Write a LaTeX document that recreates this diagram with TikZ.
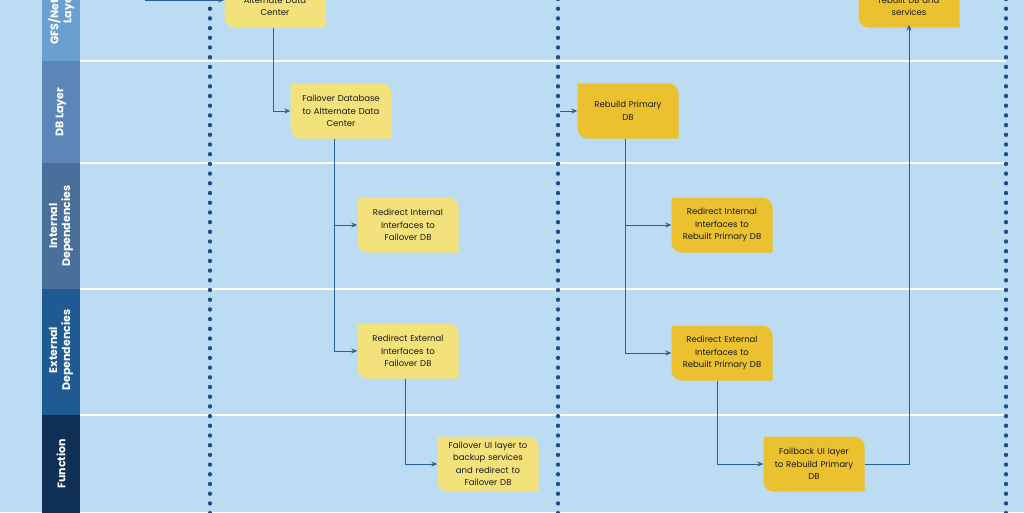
\documentclass[tikz,border=0pt]{standalone}
\usepackage{fontspec}
\setmainfont{Poppins}
\usetikzlibrary{arrows.meta}
\definecolor{bgblue}{HTML}{BCDCF3}
\definecolor{flow}{HTML}{2A5F9E}
\definecolor{dotblue}{HTML}{1E4E8C}
\definecolor{paleyel}{HTML}{F3E27C}
\definecolor{deepyel}{HTML}{EBC12F}
\tikzset{
  lanelabel/.style={rotate=90, text=white, font=\fontsize{11}{13}\selectfont\bfseries, align=center},
  stepbox/.style={minimum width=101pt, minimum height=55pt, inner sep=0pt,
    text width=98pt, align=center, font=\fontsize{8.5}{12.5}\selectfont, text=black!90,
    path picture={\fill[#1] (path picture bounding box.north west)
      -- ([xshift=-10pt]path picture bounding box.north east) arc(90:0:10pt)
      -- (path picture bounding box.south east)
      -- ([xshift=10pt]path picture bounding box.south west) arc(270:180:10pt) -- cycle;}},
  flowline/.style={flow, line width=0.9pt, -{Stealth[length=6pt,width=5pt]}},
  sepline/.style={dotblue, line width=4.4pt, dash pattern=on 0pt off 9.7pt, line cap=round}
}
\begin{document}
\begin{tikzpicture}[x=1pt, y=-1pt]
  \useasboundingbox (0,0) rectangle (1024,512);
  \clip (0,0) rectangle (1024,512);
  \fill[bgblue] (0,0) rectangle (1024,512);

  % swim lanes
  \foreach \ya/\yb/\col in {-80/61/6A9FD0, 61/163/5A86B8, 163/289/4A6F9A, 289/415/1F5A93, 415/530/0F2F55}{
    \definecolor{lanecol}{HTML}{\col}
    \fill[lanecol] (42,\ya) rectangle (80,\yb);
  }
  \foreach \y in {61,163,289,415}
    \draw[white, line width=1.2pt] (80,\y) -- (1006,\y);
  \node[lanelabel] (gfs) at (61,8) {GFS/Network\\Layer};
  \node[lanelabel] (db) at (61,112) {DB Layer};
  \node[lanelabel] (intl) at (61,226) {Internal\\Dependencies};
  \node[lanelabel] (extl) at (61,350) {External\\Dependencies};
  \node[lanelabel] (func) at (61,464) {Function};

  % phase separators
  \foreach \x in {210,558,1006}
    \draw[sepline] (\x,-1) -- (\x,520);

  % failover steps
  \node[stepbox=paleyel] (altdc) at (275,0) {Failover Network to\\Alternate Data\\Center};
  \node[stepbox=paleyel] (fodb) at (341,111) {Failover Database\\to Altternate Data\\Center};
  \node[stepbox=paleyel] (foint) at (408,225) {Redirect Internal\\Interfaces to\\Failover DB};
  \node[stepbox=paleyel] (foext) at (408,351) {Redirect External\\Interfaces to\\Failover DB};
  \node[stepbox=paleyel] (foui) at (488,464) {Failover UI layer to\\backup services\\and redirect to\\Failover DB};

  % failback steps
  \node[stepbox=deepyel] (rebuild) at (628,111) {Rebuild Primary\\DB};
  \node[stepbox=deepyel] (fbint) at (722,225) {Redirect Internal\\Interfaces to\\Rebuilt Primary DB};
  \node[stepbox=deepyel] (fbext) at (722,353) {Redirect External\\Interfaces to\\Rebuilt Primary DB};
  \node[stepbox=deepyel] (fbui) at (814,464) {Failback UI layer\\to Rebuild Primary\\DB};
  \node[stepbox=deepyel] (fbnet) at (909,0) {Failback network to\\rebuilt DB and\\services};

  \coordinate (start) at (145,0);
  \coordinate (phase2) at (560,111);

  % connectors
  \draw[flowline] (start) -- (altdc.west);
  \draw[flowline] (altdc.south -| 273,0) |- (fodb.west);
  \draw[flowline] (fodb.south -| 334,0) |- (foint.west);
  \draw[flowline] (fodb.south -| 334,0) |- (foext.west);
  \draw[flowline] (foext.south -| 405,0) |- (foui.west);
  \draw[flowline] (phase2) -- (rebuild.west);
  \draw[flowline] (rebuild.south -| 625,0) |- (fbint.west);
  \draw[flowline] (rebuild.south -| 625,0) |- (fbext.west);
  \draw[flowline] (fbext.south -| 717,0) |- (fbui.west);
  \draw[flowline] (fbui.east) -| ([yshift=3pt]fbnet.south);
\end{tikzpicture}
\end{document}
